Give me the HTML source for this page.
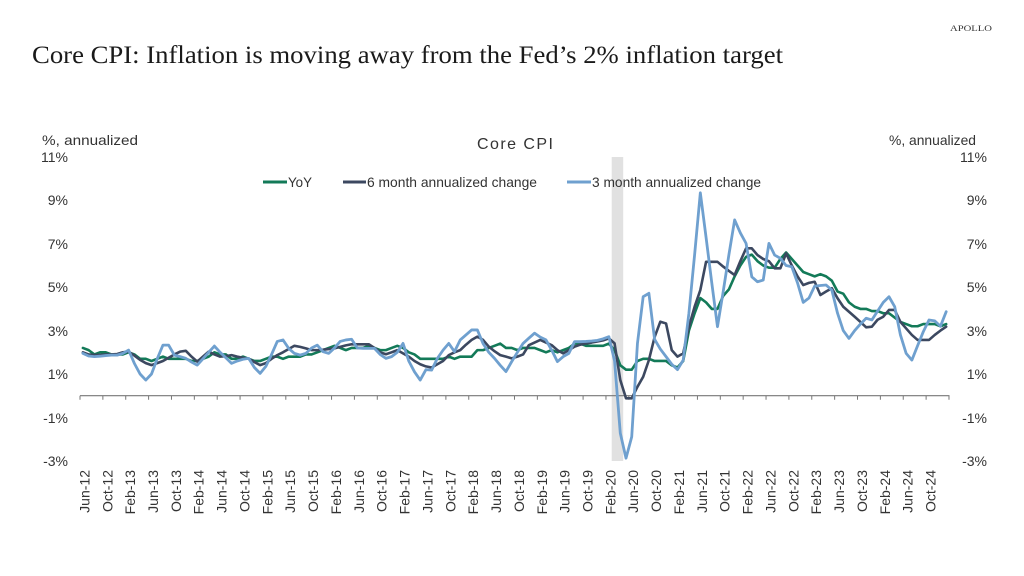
<!DOCTYPE html>
<html>
<head>
<meta charset="utf-8">
<style>
html,body{margin:0;padding:0;background:#fff;}
svg{display:block;}
.ax{font-family:"Liberation Sans",Arial,sans-serif;font-size:14px;fill:#333;}
.xl{font-family:"Liberation Sans",Arial,sans-serif;font-size:14px;fill:#333;}
</style>
</head>
<body>
<svg width="1024" height="576" viewBox="0 0 1024 576" xmlns="http://www.w3.org/2000/svg">
<rect width="1024" height="576" fill="#fff"/>
<!-- Header -->
<text x="950" y="31" font-family="'Liberation Serif',serif" font-size="8" fill="#333" textLength="42" lengthAdjust="spacingAndGlyphs">APOLLO</text>
<text x="32" y="63" font-family="'Liberation Serif',serif" font-size="25" fill="#1a1a1a" textLength="751" lengthAdjust="spacingAndGlyphs">Core CPI: Inflation is moving away from the Fed’s 2% inflation target</text>

<!-- Axis titles -->
<text class="ax" x="42" y="145" textLength="96" lengthAdjust="spacingAndGlyphs">%, annualized</text>
<text class="ax" x="889" y="145" textLength="87" lengthAdjust="spacingAndGlyphs">%, annualized</text>
<text x="477" y="149" font-family="'Liberation Sans',Arial,sans-serif" font-size="16" fill="#333" textLength="76" lengthAdjust="spacing">Core CPI</text>

<!-- Left y labels -->
<g class="ax" text-anchor="end">
<text x="68" y="162">11%</text>
<text x="68" y="205">9%</text>
<text x="68" y="249">7%</text>
<text x="68" y="292">5%</text>
<text x="68" y="336">3%</text>
<text x="68" y="379">1%</text>
<text x="68" y="423">-1%</text>
<text x="68" y="466">-3%</text>
</g>
<!-- Right y labels -->
<g class="ax" text-anchor="end">
<text x="987" y="162">11%</text>
<text x="987" y="205">9%</text>
<text x="987" y="249">7%</text>
<text x="987" y="292">5%</text>
<text x="987" y="336">3%</text>
<text x="987" y="379">1%</text>
<text x="987" y="423">-1%</text>
<text x="987" y="466">-3%</text>
</g>

<!-- Recession shading -->
<rect x="611.7" y="157" width="11.5" height="304" fill="#e1e1e1"/>

<!-- Legend -->
<g font-family="'Liberation Sans',Arial,sans-serif" font-size="14" fill="#333">
<line x1="263" y1="182" x2="287" y2="182" stroke="#137a58" stroke-width="3"/>
<text x="288" y="187" textLength="24" lengthAdjust="spacingAndGlyphs">YoY</text>
<line x1="343" y1="182" x2="366" y2="182" stroke="#3c4860" stroke-width="3"/>
<text x="367" y="187" textLength="170" lengthAdjust="spacingAndGlyphs">6 month annualized change</text>
<line x1="567" y1="182" x2="591" y2="182" stroke="#6fa0cf" stroke-width="3"/>
<text x="592" y="187" textLength="169" lengthAdjust="spacingAndGlyphs">3 month annualized change</text>
</g>

<!-- X axis -->
<line x1="80" y1="395.7" x2="949.5" y2="395.7" stroke="#777" stroke-width="1.2"/>
<line x1="79.5" y1="397.7" x2="950" y2="397.7" stroke="#777" stroke-width="4" stroke-dasharray="1 21.868"/>

<!-- Series -->
<g transform="matrix(5.717 0 0 -21.7 82.9 395.7)" fill="none" stroke-linejoin="round" stroke-linecap="round">
<polyline vector-effect="non-scaling-stroke" stroke="#137a58" stroke-width="2.6" points="0,2.2 1,2.1 2,1.9 3,2.0 4,2.0 5,1.9 6,1.9 7,1.9 8,2.0 9,1.9 10,1.7 11,1.7 12,1.6 13,1.7 14,1.8 15,1.7 16,1.7 17,1.7 18,1.7 19,1.6 20,1.6 21,1.7 22,1.8 23,2.0 24,1.9 25,1.9 26,1.7 27,1.7 28,1.8 29,1.7 30,1.6 31,1.6 32,1.7 33,1.8 34,1.8 35,1.7 36,1.8 37,1.8 38,1.8 39,1.9 40,1.9 41,2.0 42,2.1 43,2.2 44,2.3 45,2.2 46,2.1 47,2.2 48,2.2 49,2.2 50,2.3 51,2.2 52,2.1 53,2.1 54,2.2 55,2.3 56,2.2 57,2.0 58,1.9 59,1.7 60,1.7 61,1.7 62,1.7 63,1.7 64,1.8 65,1.7 66,1.8 67,1.8 68,1.8 69,2.1 70,2.1 71,2.2 72,2.3 73,2.4 74,2.2 75,2.2 76,2.1 77,2.2 78,2.2 79,2.2 80,2.1 81,2.0 82,2.1 83,2.0 84,2.1 85,2.2 86,2.4 87,2.4 88,2.3 89,2.3 90,2.3 91,2.3 92,2.4 93,2.1 94,1.4 95,1.2 96,1.2 97,1.6 98,1.7 99,1.7 100,1.6 101,1.6 102,1.6 103,1.4 104,1.3 105,1.6 106,3.0 107,3.8 108,4.5 109,4.3 110,4.0 111,4.0 112,4.6 113,4.9 114,5.5 115,6.0 116,6.4 117,6.5 118,6.2 119,6.0 120,5.9 121,5.9 122,6.3 123,6.6 124,6.3 125,6.0 126,5.7 127,5.6 128,5.5 129,5.6 130,5.5 131,5.3 132,4.8 133,4.7 134,4.3 135,4.1 136,4.0 137,4.0 138,3.9 139,3.9 140,3.8 141,3.8 142,3.6 143,3.4 144,3.3 145,3.2 146,3.2 147,3.3 148,3.3 149,3.3 150,3.2 151,3.3"/>
<polyline vector-effect="non-scaling-stroke" stroke="#3c4860" stroke-width="2.6" points="0,2.0 1,1.9 2,1.88 3,1.88 4,1.9 5,1.9 6,1.92 7,2.0 8,2.03 9,1.85 10,1.65 11,1.5 12,1.41 13,1.5 14,1.6 15,1.75 16,1.9 17,2.03 18,2.07 19,1.8 20,1.57 21,1.8 22,2.03 23,1.9 24,1.8 25,1.82 26,1.87 27,1.8 28,1.75 29,1.7 30,1.55 31,1.41 32,1.5 33,1.7 34,1.87 35,2.0 36,2.15 37,2.3 38,2.25 39,2.18 40,2.1 41,2.1 42,2.12 43,2.15 44,2.18 45,2.25 46,2.32 47,2.37 48,2.37 49,2.37 50,2.37 51,2.2 52,2.0 53,1.91 54,2.0 55,2.1 56,1.95 57,1.8 58,1.6 59,1.45 60,1.35 61,1.3 62,1.45 63,1.6 64,1.87 65,2.0 66,2.1 67,2.35 68,2.57 69,2.72 70,2.57 71,2.26 72,2.05 73,1.87 74,1.8 75,1.72 76,1.8 77,1.9 78,2.33 79,2.45 80,2.57 81,2.45 82,2.33 83,2.1 84,1.95 85,2.1 86,2.26 87,2.35 88,2.41 89,2.45 90,2.5 91,2.55 92,2.64 93,2.41 94,0.72 95,-0.12 96,-0.12 97,0.41 98,0.87 99,1.64 100,2.7 101,3.41 102,3.33 103,2.1 104,1.8 105,1.95 106,3.18 107,4.1 108,4.87 109,6.17 110,6.17 111,6.17 112,5.95 113,5.75 114,5.56 115,6.2 116,6.79 117,6.79 118,6.48 119,6.3 120,6.2 121,5.87 122,5.87 123,6.56 124,6.0 125,5.5 126,5.1 127,5.2 128,5.25 129,4.64 130,4.8 131,4.95 132,4.49 133,4.1 134,3.87 135,3.64 136,3.4 137,3.15 138,3.18 139,3.5 140,3.64 141,3.95 142,3.95 143,3.4 144,3.1 145,2.8 146,2.57 147,2.57 148,2.57 149,2.8 150,3.0 151,3.18"/>
<polyline vector-effect="non-scaling-stroke" stroke="#6fa0cf" stroke-width="2.8" points="0,1.95 1,1.83 2,1.8 3,1.82 4,1.85 5,1.87 6,1.87 7,1.95 8,2.1 9,1.49 10,1.0 11,0.72 12,1.0 13,1.7 14,2.33 15,2.33 16,1.87 17,1.8 18,1.72 19,1.55 20,1.41 21,1.7 22,2.0 23,2.29 24,2.0 25,1.75 26,1.49 27,1.6 28,1.68 29,1.72 30,1.3 31,1.03 32,1.35 33,1.9 34,2.5 35,2.57 36,2.18 37,1.95 38,1.87 39,1.95 40,2.2 41,2.33 42,2.03 43,1.95 44,2.2 45,2.5 46,2.57 47,2.6 48,2.2 49,2.18 50,2.18 51,2.18 52,1.9 53,1.72 54,1.8 55,2.0 56,2.41 57,1.6 58,1.1 59,0.72 60,1.2 61,1.18 62,1.72 63,2.1 64,2.41 65,2.03 66,2.57 67,2.8 68,3.03 69,3.03 70,2.4 71,2.0 72,1.72 73,1.4 74,1.11 75,1.57 76,2.0 77,2.41 78,2.65 79,2.88 80,2.7 81,2.57 82,2.1 83,1.57 84,1.8 85,1.95 86,2.49 87,2.49 88,2.5 89,2.52 90,2.55 91,2.62 92,2.72 93,1.6 94,-1.73 95,-2.88 96,-1.89 97,2.41 98,4.56 99,4.72 100,2.6 101,2.15 102,1.8 103,1.45 104,1.2 105,1.64 106,3.8 107,6.5 108,9.35 109,7.3 110,5.2 111,3.18 112,4.8 113,6.5 114,8.1 115,7.5 116,7.02 117,5.48 118,5.25 119,5.33 120,7.02 121,6.48 122,6.33 123,6.0 124,5.94 125,5.2 126,4.3 127,4.5 128,5.05 129,5.08 130,5.1 131,4.87 132,3.8 133,3.0 134,2.64 135,3.0 136,3.3 137,3.57 138,3.49 139,3.9 140,4.3 141,4.56 142,4.1 143,2.8 144,1.95 145,1.64 146,2.3 147,2.95 148,3.49 149,3.45 150,3.2 151,3.87"/>
</g>

<!-- X labels -->
<g class="xl" text-anchor="end">
<text transform="translate(89.4,470) rotate(-90)">Jun-12</text>
<text transform="translate(112.27,470) rotate(-90)">Oct-12</text>
<text transform="translate(135.14,470) rotate(-90)">Feb-13</text>
<text transform="translate(158.0,470) rotate(-90)">Jun-13</text>
<text transform="translate(180.87,470) rotate(-90)">Oct-13</text>
<text transform="translate(203.74,470) rotate(-90)">Feb-14</text>
<text transform="translate(226.61,470) rotate(-90)">Jun-14</text>
<text transform="translate(249.48,470) rotate(-90)">Oct-14</text>
<text transform="translate(272.34,470) rotate(-90)">Feb-15</text>
<text transform="translate(295.21,470) rotate(-90)">Jun-15</text>
<text transform="translate(318.08,470) rotate(-90)">Oct-15</text>
<text transform="translate(340.95,470) rotate(-90)">Feb-16</text>
<text transform="translate(363.82,470) rotate(-90)">Jun-16</text>
<text transform="translate(386.68,470) rotate(-90)">Oct-16</text>
<text transform="translate(409.55,470) rotate(-90)">Feb-17</text>
<text transform="translate(432.42,470) rotate(-90)">Jun-17</text>
<text transform="translate(455.29,470) rotate(-90)">Oct-17</text>
<text transform="translate(478.16,470) rotate(-90)">Feb-18</text>
<text transform="translate(501.02,470) rotate(-90)">Jun-18</text>
<text transform="translate(523.89,470) rotate(-90)">Oct-18</text>
<text transform="translate(546.76,470) rotate(-90)">Feb-19</text>
<text transform="translate(569.63,470) rotate(-90)">Jun-19</text>
<text transform="translate(592.5,470) rotate(-90)">Oct-19</text>
<text transform="translate(615.36,470) rotate(-90)">Feb-20</text>
<text transform="translate(638.23,470) rotate(-90)">Jun-20</text>
<text transform="translate(661.1,470) rotate(-90)">Oct-20</text>
<text transform="translate(683.97,470) rotate(-90)">Feb-21</text>
<text transform="translate(706.84,470) rotate(-90)">Jun-21</text>
<text transform="translate(729.7,470) rotate(-90)">Oct-21</text>
<text transform="translate(752.57,470) rotate(-90)">Feb-22</text>
<text transform="translate(775.44,470) rotate(-90)">Jun-22</text>
<text transform="translate(798.31,470) rotate(-90)">Oct-22</text>
<text transform="translate(821.18,470) rotate(-90)">Feb-23</text>
<text transform="translate(844.04,470) rotate(-90)">Jun-23</text>
<text transform="translate(866.91,470) rotate(-90)">Oct-23</text>
<text transform="translate(889.78,470) rotate(-90)">Feb-24</text>
<text transform="translate(912.65,470) rotate(-90)">Jun-24</text>
<text transform="translate(935.52,470) rotate(-90)">Oct-24</text>
</g>
</svg>
</body>
</html>
